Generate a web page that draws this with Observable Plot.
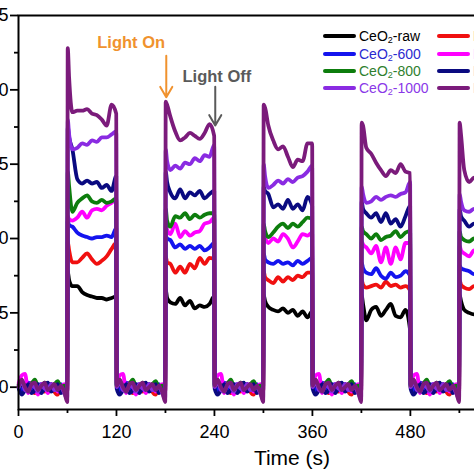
<!DOCTYPE html>
<html><head><meta charset="utf-8">
<script src="https://cdn.jsdelivr.net/npm/d3@7"></script>
<script src="https://cdn.jsdelivr.net/npm/@observablehq/plot@0.6"></script>
<style>
html,body{margin:0;padding:0;background:#fff;}
#wrap{position:relative;width:474px;height:474px;overflow:hidden;background:#fff;font-family:"Liberation Sans",Arial,sans-serif;}
#chart{position:absolute;left:-42px;top:0;width:627px;height:474px;}
#chart svg{max-width:none !important;width:627px;height:474px;}
.leg{position:absolute;font-size:14px;line-height:16px;white-space:nowrap;height:16px;}
.leg .sw{display:inline-block;width:33px;height:4px;border-radius:2px;vertical-align:middle;margin-right:3px;position:relative;top:-1px;}
.leg sub{font-size:9px;vertical-align:-2px;line-height:0;}
</style></head>
<body><div id="wrap"><div id="chart"></div></div>
<script>
// ---- data ----
const seriesNames = ["CeO₂-raw","CeO₂-600","CeO₂-800","CeO₂-1000","Pt/CeO₂-raw","Pt/CeO₂-600","Pt/CeO₂-800","Pt/CeO₂-1000"];
const seriesColors = ["#000000","#1414ee","#0d7d0d","#8a2be2","#f01010","#ff00ff","#0a0a80","#7b1b7b"];
const legendTextColors = ["#000000","#2a2ad0","#2f7f2f","#8a38e8","#f01010","#ff00ff","#0a0a80","#7b1b7b"];
const drawOrder = [0,4,1,5,2,6,3,7];

const onTimes = [60, 180, 300, 420, 540];
const darkStarts = [0, 120, 240, 360, 480, 600];
const lightOffsets = [0.3, 2, 6, 12, 18, 24, 30, 36, 42, 48, 54, 59.7];
const darkOffsets = [0.3, 4, 8, 12, 16, 20, 24, 28, 32, 36, 40, 44, 48, 52, 56, 59.7];

const rawLight = [
  [0.78,0.72,0.68,0.68,0.64,0.62,0.61,0.60,0.60,0.59,0.60,0.61],
  [0.66,0.60,0.57,0.56,0.60,0.55,0.58,0.53,0.55,0.54,0.56,0.61],
  [0.62,0.58,0.54,0.52,0.51,0.53,0.50,0.52,0.48,0.51,0.47,0.51],
  [0.62,0.56,0.45,0.52,0.54,0.48,0.52,0.56,0.48,0.47,0.52,0.38],
  [0.62,0.58,0.52,0.50,0.49,0.50,0.48,0.49,0.47,0.48,0.46,0.47]];
const c600Light = [
  [1.12,1.09,1.08,1.04,1.02,1.01,1.00,1.01,1.01,1.02,1.01,1.07],
  [1.02,1.00,0.99,0.94,0.96,0.93,0.95,0.93,0.95,0.92,0.94,0.97],
  [0.90,0.86,0.84,0.83,0.85,0.83,0.84,0.82,0.85,0.83,0.85,0.87],
  [0.84,0.80,0.77,0.76,0.80,0.75,0.73,0.77,0.74,0.75,0.78,0.75],
  [0.82,0.80,0.79,0.78,0.76,0.78,0.76,0.77,0.75,0.77,0.76,0.77]];
const c800Light = [
  [1.45,1.35,1.18,1.24,1.27,1.29,1.25,1.24,1.26,1.24,1.25,1.27],
  [1.20,1.12,1.08,1.15,1.14,1.17,1.13,1.16,1.14,1.16,1.17,1.17],
  [1.10,1.05,1.01,1.04,1.08,1.10,1.07,1.10,1.08,1.11,1.14,1.13],
  [1.08,1.05,1.03,1.00,1.03,0.99,1.01,1.02,1.05,1.01,1.04,1.05],
  [1.05,1.01,0.99,0.98,1.00,0.98,0.99,0.97,1.00,0.98,1.00,1.01]];
const c1000Light = [
  [1.80,1.70,1.60,1.61,1.64,1.63,1.66,1.65,1.68,1.68,1.70,1.72],
  [1.60,1.52,1.46,1.49,1.47,1.51,1.50,1.54,1.52,1.56,1.55,1.63],
  [1.50,1.42,1.34,1.36,1.39,1.37,1.40,1.38,1.41,1.42,1.45,1.49],
  [1.35,1.30,1.24,1.25,1.28,1.26,1.28,1.29,1.28,1.30,1.31,1.38],
  [1.30,1.25,1.19,1.18,1.20,1.19,1.21,1.20,1.22,1.21,1.23,1.25]];
const redLight = [
  [0.98,0.92,0.84,0.84,0.87,0.90,0.86,0.83,0.85,0.88,0.93,0.97],
  [0.88,0.84,0.83,0.77,0.81,0.77,0.83,0.80,0.87,0.83,0.87,0.86],
  [0.78,0.74,0.72,0.70,0.74,0.71,0.74,0.72,0.75,0.74,0.77,0.77],
  [0.72,0.69,0.67,0.68,0.69,0.67,0.71,0.68,0.69,0.67,0.68,0.65],
  [0.72,0.69,0.67,0.66,0.68,0.66,0.67,0.65,0.67,0.66,0.67,0.66]];
const magentaLight = [
  [1.15,1.13,1.12,1.14,1.18,1.14,1.19,1.20,1.19,1.22,1.24,1.26],
  [1.10,1.06,1.03,1.10,1.01,1.05,1.02,1.04,1.05,1.10,1.11,1.14],
  [1.02,1.00,0.97,1.00,0.98,1.03,1.00,0.94,0.98,1.03,1.02,1.04],
  [0.98,0.96,0.94,0.90,0.95,0.84,0.94,0.83,0.94,0.86,0.97,0.97],
  [0.95,0.92,0.90,0.88,0.92,0.87,0.91,0.86,0.90,0.87,0.91,0.92]];
const navyLight = [
  [1.75,1.68,1.60,1.40,1.37,1.39,1.37,1.38,1.34,1.36,1.32,1.42],
  [1.45,1.38,1.31,1.27,1.33,1.27,1.31,1.29,1.32,1.27,1.30,1.32],
  [1.35,1.32,1.30,1.21,1.23,1.20,1.26,1.20,1.23,1.19,1.28,1.22],
  [1.25,1.20,1.17,1.14,1.17,1.11,1.17,1.10,1.13,1.08,1.15,1.22],
  [1.20,1.15,1.12,1.08,1.10,1.08,1.10,1.07,1.09,1.06,1.10,1.12]];
const purpleLight = [
  [2.28,2.08,1.85,1.86,1.86,1.87,1.84,1.83,1.80,1.76,1.90,1.84],
  [1.92,1.90,1.82,1.72,1.66,1.68,1.71,1.69,1.67,1.71,1.77,1.69],
  [1.90,1.88,1.76,1.66,1.60,1.62,1.55,1.48,1.53,1.52,1.64,1.64],
  [1.78,1.76,1.61,1.57,1.51,1.46,1.42,1.46,1.44,1.50,1.45,1.44],
  [1.78,1.70,1.46,1.38,1.41,1.38,1.36,1.37,1.35,1.36,1.34,1.35]];

const rawDark     = [0.02,0.00,-0.02,0.01,0.03,0.00,-0.02,0.01,0.02,-0.01,0.00,0.02,-0.01,0.01,0.00,0.02];
const c600Dark    = [0.01,-0.02,0.01,0.03,-0.01,-0.03,0.01,0.02,-0.02,0.00,0.02,-0.02,0.00,0.02,-0.01,0.00];
const c800Dark    = [0.00,0.03,0.01,-0.02,0.02,0.05,0.00,-0.02,0.03,0.02,-0.01,0.02,0.04,0.00,0.01,0.00];
const c1000Dark   = [0.00,0.04,-0.02,-0.03,0.01,0.00,-0.03,0.02,-0.01,-0.02,0.02,-0.02,-0.01,0.00,-0.04,-0.08];
const redDark     = [0.00,-0.02,0.00,0.02,-0.02,-0.04,0.00,0.01,-0.03,-0.01,0.02,-0.03,-0.05,0.00,-0.02,-0.03];
const magentaDark = [0.03,0.08,0.09,-0.04,0.03,0.00,-0.05,0.02,0.01,-0.04,0.01,0.02,-0.03,0.00,0.02,-0.02];
const navyDark    = [-0.01,-0.05,-0.02,0.02,-0.04,-0.02,0.02,-0.04,0.00,0.03,-0.03,-0.01,0.02,-0.04,-0.02,-0.03];
const purpleDark  = [0.01,0.05,0.00,-0.03,0.02,0.03,-0.02,0.01,0.03,-0.02,0.00,0.02,-0.02,0.01,-0.03,-0.10];

const lightBySeries = [rawLight, c600Light, c800Light, c1000Light, redLight, magentaLight, navyLight, purpleLight];
const darkBySeries = [rawDark, c600Dark, c800Dark, c1000Dark, redDark, magentaDark, navyDark, purpleDark];

const xMajorTicks = [0, 120, 240, 360, 480, 600];
const xMinorTicks = [60, 180, 300, 420, 540, 660];
const yMajorTicks = [0, 0.5, 1.0, 1.5, 2.0, 2.5];
const yMinorTicks = [0.25, 0.75, 1.25, 1.75, 2.25];
const xLabel = "Time (s)";

const annotations = [
  {label: "Light On", color: "#f0922e", tx: 138, vx: 2.32, t1: 181, v1: 2.23, t2: 181, v2: 1.95},
  {label: "Light Off", color: "#5a5a5a", tx: 243, vx: 2.09, t1: 241, v1: 2.02, t2: 241, v2: 1.76}
];

// ---- build rows ----
const rows = [];
for (const si of drawOrder) {
  const name = seriesNames[si];
  for (let k = 0; k < darkStarts.length; k++) {
    darkOffsets.forEach((o, j) => rows.push({series: name, t: darkStarts[k] + o, v: darkBySeries[si][j]}));
    if (k < onTimes.length) {
      lightOffsets.forEach((o, j) => rows.push({series: name, t: onTimes[k] + o, v: lightBySeries[si][k][j]}));
    }
  }
}

const font = "Liberation Sans, Arial, sans-serif";
const chart = Plot.plot({
  width: 627, height: 474,
  marginLeft: 60, marginRight: 20, marginTop: 15, marginBottom: 65,
  style: {fontFamily: font, fontSize: "18px", color: "black", background: "white", overflow: "visible", maxWidth: "none"},
  x: {domain: [0, 670]},
  y: {domain: [-0.15, 2.5]},
  color: {domain: seriesNames, range: seriesColors},
  marks: [
    Plot.axisX(xMajorTicks, {tickSize: 7, tickPadding: 9, tickFormat: d => String(d), label: null, strokeWidth: 1.8}),
    Plot.axisX(xMinorTicks, {tickSize: 4, tickFormat: () => "", label: null, strokeWidth: 1.8}),
    Plot.axisY(yMajorTicks, {tickSize: 8, tickPadding: 2, tickFormat: d3.format(".1f"), label: null, strokeWidth: 1.8}),
    Plot.axisY(yMinorTicks, {tickSize: 4, tickFormat: () => "", label: null, strokeWidth: 1.8}),
    Plot.line(rows, {x: "t", y: "v", z: "series", stroke: "series", strokeWidth: 3.8, curve: "monotone-x", strokeLinejoin: "round"}),
    Plot.frame({stroke: "black", strokeWidth: 2}),
    ...annotations.map(a => Plot.arrow([a], {x1: "t1", y1: "v1", x2: "t2", y2: "v2", stroke: a.color, strokeWidth: 2, headLength: 9})),
    ...annotations.map(a => Plot.text([a], {x: "tx", y: "vx", text: "label", fill: a.color, fontWeight: "bold", fontSize: 16.5})),
    Plot.text([xLabel], {frameAnchor: "bottom", dy: 55, fontSize: 21, fill: "black"})
  ]
});
document.getElementById("chart").appendChild(chart);

// ---- legend (HTML overlay) ----
const wrap = document.getElementById("wrap");
const legendCols = [323, 437];
const legendRows = [28, 45.5, 63, 80];
seriesNames.forEach((name, i) => {
  const col = Math.floor(i / 4), row = i % 4;
  const d = document.createElement("div");
  d.className = "leg";
  d.style.left = legendCols[col] + "px";
  d.style.top = legendRows[row] + "px";
  d.style.color = legendTextColors[i];
  d.innerHTML = `<span class="sw" style="background:${seriesColors[i]}"></span>` + name.replace("₂", "<sub>2</sub>");
  wrap.appendChild(d);
});
</script>
</body></html>
